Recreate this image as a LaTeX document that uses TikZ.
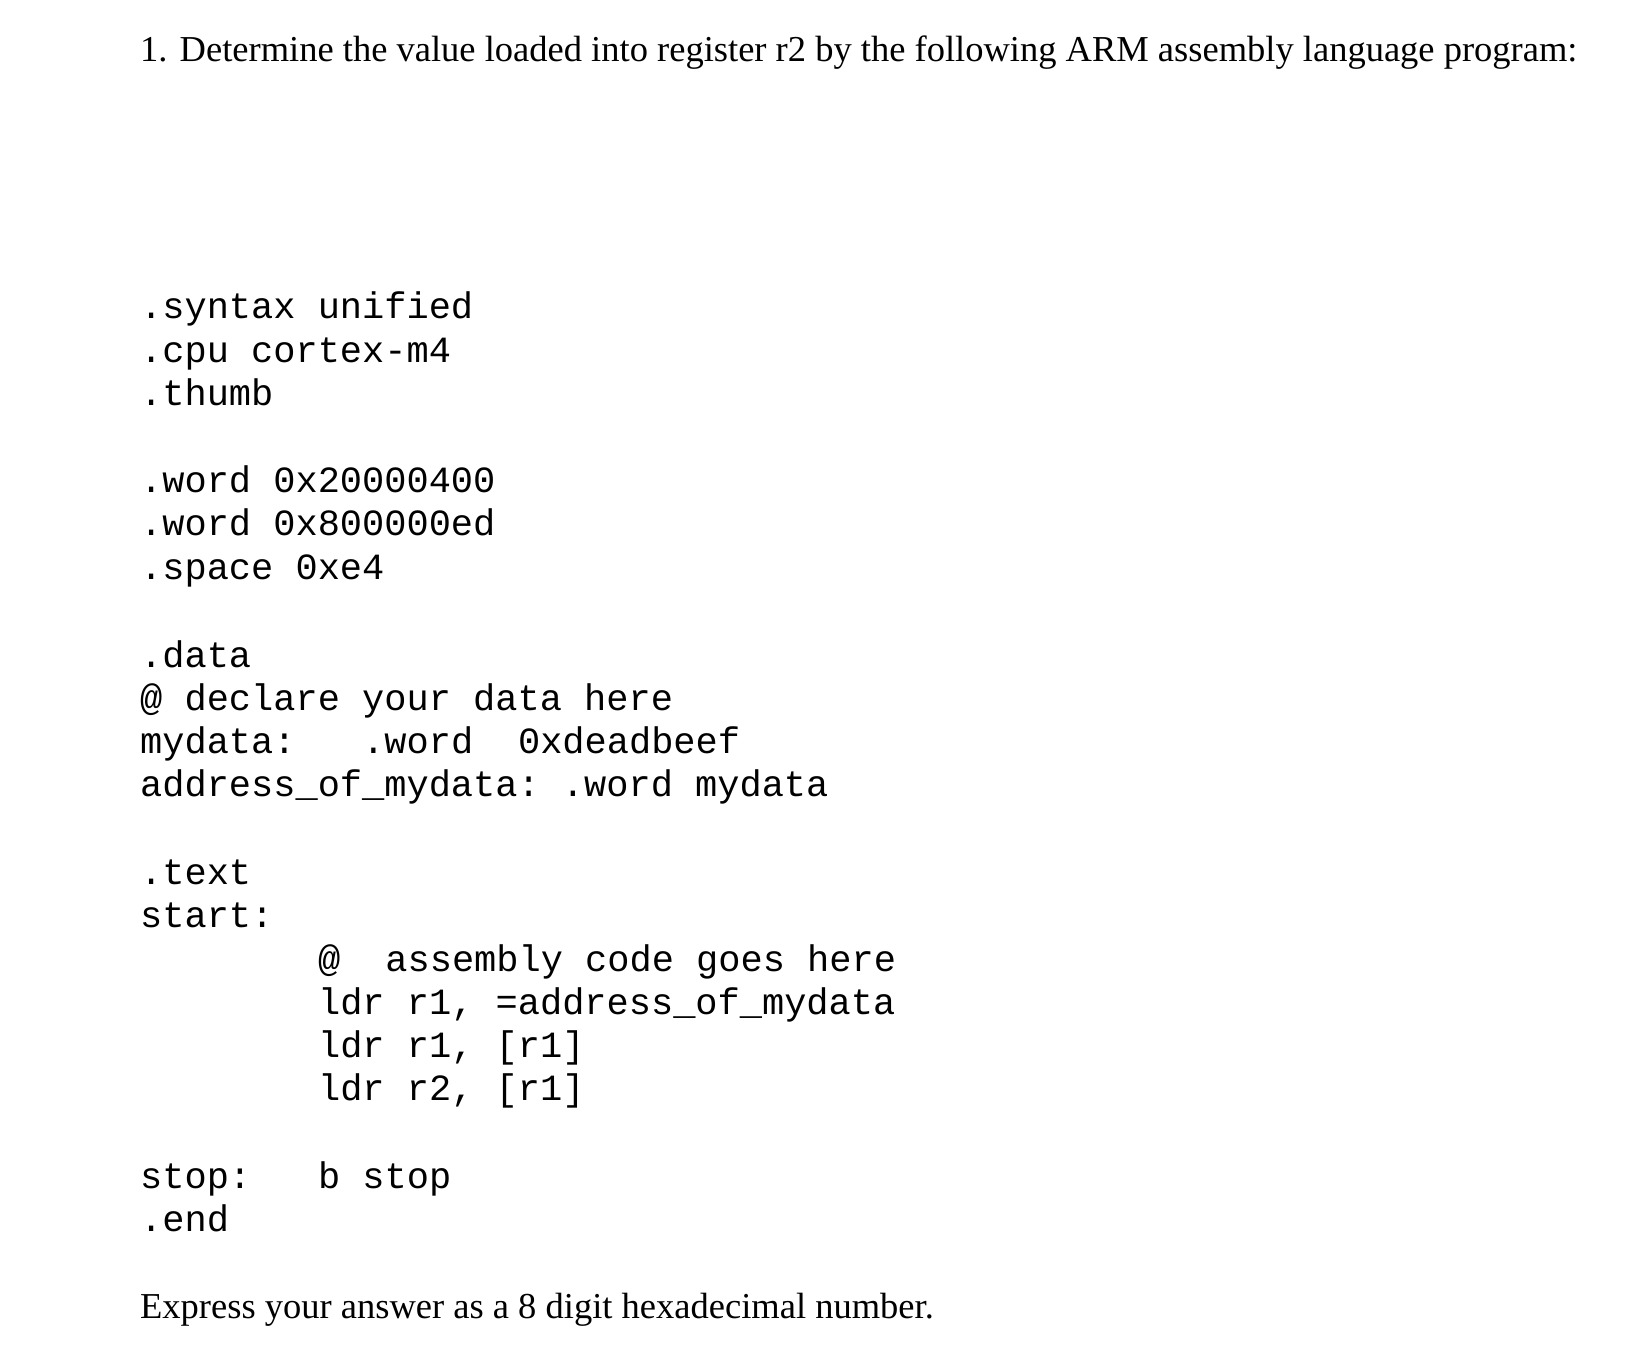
\documentclass[tikz,border=0pt]{standalone}
\usepackage{fontspec}
\setmainfont{Liberation Serif}
\setmonofont{Liberation Mono}
\begin{document}
\begin{tikzpicture}[x=1.0526pt,y=-1.0526pt,
  mono/.style={anchor=base west,inner sep=0pt,font=\fontsize{37}{40}\ttfamily},
  serif/.style={anchor=base west,inner sep=0pt,font=\fontsize{36.5}{42}\selectfont}]
\useasboundingbox (0,0) rectangle (1560,1280);
\node[serif] (t) at (133,58) {1. Determine the value loaded into register r2 by the following ARM assembly language program:};
\node[mono] (l1) at (133,303) {.syntax unified};
\node[mono] (l2) at (133,344) {.cpu cortex-m4};
\node[mono] (l3) at (133,385) {.thumb};
\node[mono] (l4) at (133,468) {.word 0x20000400};
\node[mono] (l5) at (133,509) {.word 0x800000ed};
\node[mono] (l6) at (133,551) {.space 0xe4};
\node[mono] (l7) at (133,634) {.data};
\node[mono] (l8) at (133,675) {@ declare your data here};
\node[mono] (l9) at (133,716) {mydata:};
\node[mono] (l9b) at (344,716) {.word};
\node[mono] (l9c) at (492,716) {0xdeadbeef};
\node[mono] (l10) at (133,757) {address\_of\_mydata: .word mydata};
\node[mono] (l11) at (133,840) {.text};
\node[mono] (l12) at (133,881) {start:};
\node[mono] (l13) at (302,923) {@};
\node[mono] (l13b) at (366,923) {assembly code goes here};
\node[mono] (l14) at (302,964) {ldr r1, =address\_of\_mydata};
\node[mono] (l15) at (302,1005) {ldr r1, [r1]};
\node[mono] (l16) at (302,1046) {ldr r2, [r1]};
\node[mono] (l17) at (133,1129) {stop:};
\node[mono] (l17b) at (302,1129) {b stop};
\node[mono] (l18) at (133,1170) {.end};
\node[serif] (e) at (133,1253) {Express your answer as a 8 digit hexadecimal number.};
\end{tikzpicture}
\end{document}
